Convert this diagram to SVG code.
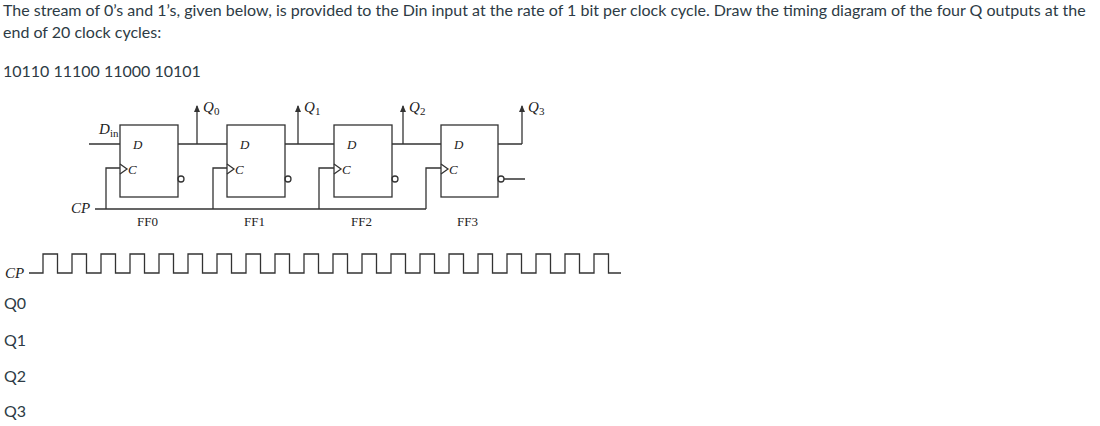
<svg xmlns="http://www.w3.org/2000/svg" width="1100" height="426" viewBox="0 0 1100 426">
<style>
.t{font-family:Lato,"Liberation Sans",sans-serif;font-size:16px;fill:#2d3b45}
.s{font-family:"Liberation Serif",serif;font-size:13px;fill:#222}
.b{font-size:15px}
.sub{font-size:11px}
.i{font-style:italic}
.w{fill:none;stroke:#333;stroke-width:1.3}
</style>
<defs><marker id="a" markerWidth="7" markerHeight="6" refX="6" refY="3" orient="auto" markerUnits="userSpaceOnUse"><path d="M0,0 L7,3 L0,6Z" fill="#333"/></marker></defs>
<rect width="1100" height="426" fill="#fff"/>
<text class="t" x="3" y="16">The stream of 0’s and 1’s, given below, is provided to the Din input at the rate of 1 bit per clock cycle. Draw the timing diagram of the four Q outputs at the</text>
<text class="t" x="3" y="38">end of 20 clock cycles:</text>
<text class="t" x="3" y="77">10110 11100 11000 10101</text>
<g id="FF0"><rect class="w" x="120" y="125" width="58" height="72"/><text class="s i" x="133" y="149">D</text><path class="w" d="M120,164 L127,169 L120,174"/><text class="s i" x="128" y="174">C</text><circle class="w" cx="181" cy="179" r="3"/><text class="s" x="137" y="226">FF0</text></g>
<g id="FF1"><rect class="w" x="227" y="125" width="58" height="72"/><text class="s i" x="240" y="149">D</text><path class="w" d="M227,164 L234,169 L227,174"/><text class="s i" x="235" y="174">C</text><circle class="w" cx="288" cy="179" r="3"/><text class="s" x="244" y="226">FF1</text></g>
<g id="FF2"><rect class="w" x="334" y="125" width="58" height="72"/><text class="s i" x="347" y="149">D</text><path class="w" d="M334,164 L341,169 L334,174"/><text class="s i" x="342" y="174">C</text><circle class="w" cx="395" cy="179" r="3"/><text class="s" x="351" y="226">FF2</text></g>
<g id="FF3"><rect class="w" x="441" y="125" width="57" height="72"/><text class="s i" x="454" y="149">D</text><path class="w" d="M441,164 L448,169 L441,174"/><text class="s i" x="449" y="174">C</text><circle class="w" cx="501" cy="179" r="3"/><text class="s" x="457" y="226">FF3</text></g>
<g id="labels">
<text class="s i b" x="99" y="134">D</text><text class="s sub" x="110" y="137">in</text>
<text class="s i b" x="71" y="213">CP</text>
<text class="s i b" x="203" y="112">Q</text><text class="s sub" x="214" y="115">0</text>
<text class="s i b" x="304" y="112">Q</text><text class="s sub" x="315" y="115">1</text>
<text class="s i b" x="409" y="112">Q</text><text class="s sub" x="420" y="115">2</text>
<text class="s i b" x="528" y="112">Q</text><text class="s sub" x="539" y="115">3</text>
</g>
<g id="connectors">
<path class="w" d="M89,144 H120 M178,144 H227 M285,144 H334 M392,144 H441 M498,144 H522"/>
<path class="w" d="M197,144 V106" marker-end="url(#a)"/>
<path class="w" d="M298,144 V106" marker-end="url(#a)"/>
<path class="w" d="M403,144 V106" marker-end="url(#a)"/>
<path class="w" d="M522,144 V106" marker-end="url(#a)"/>
<path class="w" d="M95,209 H426 M106,209 V168 H120 M213,209 V168 H227 M319,209 V168 H334 M426,209 V168 H441 M504,179 H525"/>
</g>
<g id="timing">
<text class="s i b" x="5" y="278">CP</text>
<path class="w" d="M29,273 H43 V254 H57.5 V273 H72 V254 H86.5 V273 H101 V254 H115.5 V273 H130 V254 H144.5 V273 H159 V254 H173.5 V273 H188 V254 H202.5 V273 H217 V254 H231.5 V273 H246 V254 H260.5 V273 H275 V254 H289.5 V273 H304 V254 H318.5 V273 H333 V254 H347.5 V273 H362 V254 H376.5 V273 H391 V254 H405.5 V273 H420 V254 H434.5 V273 H449 V254 H463.5 V273 H478 V254 H492.5 V273 H507 V254 H521.5 V273 H536 V254 H550.5 V273 H565 V254 H579.5 V273 H594 V254 H608.5 V273 H621"/>
<text class="t" x="4" y="309">Q0</text>
<text class="t" x="4" y="346">Q1</text>
<text class="t" x="4" y="382">Q2</text>
<text class="t" x="4" y="417">Q3</text>
</g>
</svg>
